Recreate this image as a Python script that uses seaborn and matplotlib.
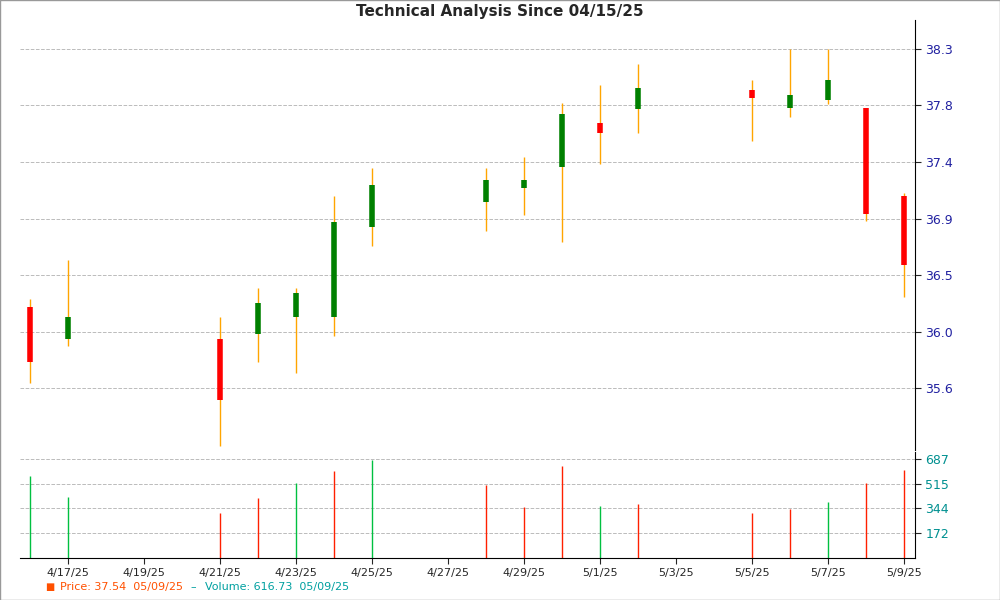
import matplotlib
matplotlib.use("Agg")
import matplotlib.pyplot as plt
import seaborn as sns
import pandas as pd
import numpy as np

dates = ["2025-04-16","2025-04-17","2025-04-21","2025-04-22","2025-04-23","2025-04-24","2025-04-25",
         "2025-04-28","2025-04-29","2025-04-30","2025-05-01","2025-05-02","2025-05-05","2025-05-06",
         "2025-05-07","2025-05-08","2025-05-09"]
opens  = [36.25,35.99,35.99,36.03,36.17,36.17,36.88,37.08,37.19,37.36,37.71,37.82,37.97,37.83,37.89,37.83,37.13]
highs  = [36.31,36.62,36.17,36.40,36.40,37.13,37.35,37.35,37.44,37.87,38.01,38.18,38.05,38.30,38.30,37.83,37.15]
lows   = [35.64,35.94,35.14,35.81,35.72,36.02,36.73,36.85,36.98,36.76,37.38,37.63,37.57,37.76,37.86,36.93,36.33]
closes = [35.81,36.17,35.51,36.28,36.36,36.92,37.22,37.26,37.26,37.78,37.63,37.99,37.91,37.93,38.05,36.99,36.58]
volumes = [571,424,313,418,522,605,682,508,355,640,362,376,313,341,390,522,612]
volume_up = [1,1,0,0,1,0,1,0,0,0,1,0,0,0,1,0,0]
price_ticks = [35.6,36.05,36.5,36.95,37.4,37.85,38.3]
price_labels = ["35.6","36.0","36.5","36.9","37.4","37.8","38.3"]
vol_ticks = [172,344,515,687]

df = pd.DataFrame(dict(date=pd.to_datetime(dates), open=opens, high=highs, low=lows, close=closes,
                       volume=volumes, vup=volume_up))
df["x"] = matplotlib.dates.date2num(df["date"])
df["up"] = df["close"] >= df["open"]
df["color"] = np.where(df["up"], "#008000", "#ff0000")

sns.set_style("white")
fig = plt.figure(figsize=(10, 6), dpi=100)
axp = fig.add_axes([0.02, 0.25, 0.895, 0.717])
axv = fig.add_axes([0.02, 0.07, 0.895, 0.177], sharex=axp)

axp.vlines(df["x"], df["low"], df["high"], color="#ffa500", lw=1, zorder=2)
axp.vlines(df["x"], df[["open","close"]].min(axis=1), df[["open","close"]].max(axis=1),
           colors=df["color"], lw=4, zorder=3)
axv.vlines(df["x"], 0, df["volume"], colors=np.where(df["vup"] == 1, "#00c040", "#ff2000"), lw=1)

x0 = matplotlib.dates.date2num(pd.Timestamp("2025-04-16")) - 0.26
x1 = matplotlib.dates.date2num(pd.Timestamp("2025-05-09")) + 0.29
axp.set_xlim(x0, x1)
axp.set_ylim(35.11, 38.53)
axv.set_ylim(0, 738)

for ax in (axp, axv):
    ax.yaxis.tick_right()
    for s in ["top", "left"]:
        ax.spines[s].set_visible(False)
    ax.spines["right"].set_color("black")
    ax.spines["bottom"].set_color("black")
    ax.tick_params(axis="y", length=4, labelsize=9, direction="out", right=True)
axp.set_yticks(price_ticks, price_labels, color="#2020a0")
axv.set_yticks(vol_ticks, [str(v) for v in vol_ticks], color="#009090")
axp.grid(axis="y", ls="--", color="#bbbbbb", lw=0.7)
axv.grid(axis="y", ls="--", color="#bbbbbb", lw=0.7)
axp.spines["bottom"].set_visible(False)
axp.tick_params(axis="x", bottom=False, labelbottom=False)

xt = pd.date_range("2025-04-17", "2025-05-09", freq="2D")
axv.set_xticks(matplotlib.dates.date2num(xt), [f"{d.month}/{d.day}/25" for d in xt])
axv.tick_params(axis="x", labelsize=8, length=4, bottom=True)

fig.suptitle("Technical Analysis Since 04/15/25", y=0.993, fontsize=11, fontweight="bold")
fig.text(0.045, 0.022, "■", color="#ff5000", fontsize=7, va="center")
fig.text(0.06, 0.022, "Price: 37.54  05/09/25", color="#ff5000", fontsize=8, va="center")
fig.text(0.19, 0.022, "–", color="#00a0a0", fontsize=8, va="center")
fig.text(0.205, 0.022, "Volume: 616.73  05/09/25", color="#00a0a0", fontsize=8, va="center")
fig.patches.append(matplotlib.patches.Rectangle((0, 0), 1, 1, transform=fig.transFigure,
                   fill=False, ec="#999999", lw=1))
fig.savefig("out.png", dpi=100)
